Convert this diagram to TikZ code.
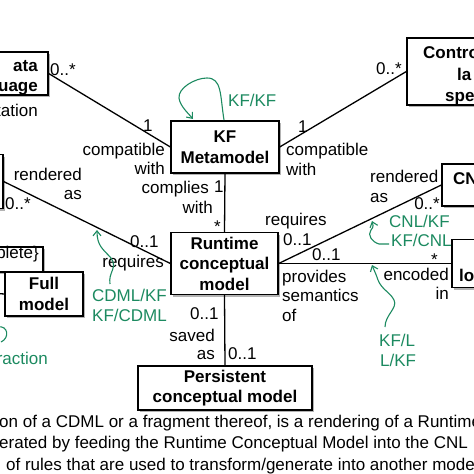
\documentclass[tikz,border=0pt]{standalone}
\usepackage{fontspec}
\setmainfont{Liberation Sans}
\usetikzlibrary{arrows.meta,shadows}
\definecolor{gc}{RGB}{28,138,96}
\begin{document}
\begin{tikzpicture}[x=1pt,y=-1pt,
  lbl/.style={inner sep=0pt, font=\fontsize{17}{20}\selectfont},
  gl/.style={lbl, text=gc},
  bl/.style={inner sep=0pt, font=\fontsize{17}{20}\selectfont\bfseries},
  box/.style={draw, line width=1.3pt, fill=white,
    drop shadow={shadow xshift=2pt, shadow yshift=-2pt, fill=black!50, opacity=0.6},
    align=center, inner sep=0pt, font=\fontsize{17}{20.5}\selectfont\bfseries},
  conn/.style={line width=1.3pt},
  gline/.style={draw=gc, line width=1.1pt, -{Straight Barb[length=5pt,width=8pt]}}]
\useasboundingbox (0,0) rectangle (474,474);
\clip (0,0) rectangle (474,474);

% boxes
\node[box, minimum width=130pt, minimum height=43pt] (dl) at (-17,73.5) {};
\node[bl, anchor=base east] (dl1) at (38,71) {ata};
\node[bl, anchor=base east] (dl2) at (38,91) {uage};
\node[lbl, anchor=base east] (dl3) at (38,116) {tation};

\node[box, minimum width=108pt, minimum height=52pt] (kf) at (225,147) {KF\\Metamodel};

\node[box, minimum width=150pt, minimum height=67pt] (cl) at (482,71.5) {};
\node[bl, anchor=base west] (cl1) at (423,58) {Contro};
\node[bl, anchor=base west] (cl2) at (457,80) {la};
\node[bl, anchor=base west] (cl3) at (445,101) {spe};

\node[box, minimum width=60pt, minimum height=54pt] (lb) at (-27,181.5) {};

\node[box, minimum width=107pt, minimum height=62pt] (rt) at (224.5,263.5) {Runtime\\conceptual\\model};

\node[box, minimum width=100pt, minimum height=42pt] (cnl) at (492,185) {};
\node[bl, anchor=base west] (cnl1) at (453,184) {CN};

\node[box, minimum width=100pt, minimum height=48pt] (lo) at (502,263.5) {};
\node[bl, anchor=base west] (lo1) at (459,281) {lo};

\node[box, minimum width=80pt, minimum height=25pt] (cmp) at (3,259.5) {};
\node[lbl, anchor=base east] (cmp1) at (39,258) {\{complete\}};

\node[box, minimum width=78pt, minimum height=44pt] (fl) at (44,294) {Full\\model};
\coordinate (flin) at (-10,293);

\node[box, minimum width=174pt, minimum height=44pt] (pc) at (225,388) {Persistent\\conceptual model};

% connectors
\draw[conn] (dl.east) -- (kf.west);
\draw[conn] (kf.east) -- (cl.west);
\draw[conn] (kf.south) -- (rt.north);
\draw[conn] (lb.east) -- (rt.west);
\draw[conn] (rt.east) -- (cnl.west);
\draw[conn] (rt.east) -- (lo.west);
\draw[conn] (rt.south) -- (pc.north);
\draw[conn] (flin) -- (fl.west);

% labels
\node[lbl, anchor=base west] (m1) at (50,75) {0..*};
\node[lbl, anchor=base west] (m2) at (143,131) {1};
\node[lbl, anchor=base east] (t1) at (165,155) {compatible};
\node[lbl, anchor=base east] (t2) at (165,174) {with};
\node[lbl, anchor=base west] (m3) at (298,132) {1};
\node[lbl, anchor=base west] (m4) at (376,74) {0..*};
\node[lbl, anchor=base west] (t3) at (286,155) {compatible};
\node[lbl, anchor=base west] (t4) at (286,175) {with};
\node[lbl, anchor=base east] (t5) at (209,193) {complies};
\node[lbl, anchor=base west] (m5) at (214,192) {1};
\node[lbl, anchor=base east] (t6) at (213,213) {with};
\node[lbl, anchor=base west] (m6) at (214,232) {*};
\node[lbl, anchor=base west] (m7) at (190,319) {0..1};
\node[lbl, anchor=base east] (t7) at (215,341) {saved};
\node[lbl, anchor=base east] (t8) at (215,359) {as};
\node[lbl, anchor=base west] (m8) at (228,359) {0..1};
\node[lbl, anchor=base east] (t9) at (82,180) {rendered};
\node[lbl, anchor=base east] (t10) at (82,199) {as};
\node[lbl, anchor=base west] (m9) at (5,209) {0..*};
\node[lbl, anchor=base west] (m10) at (130,247) {0..1};
\node[lbl, anchor=base east] (t11) at (164,267.5) {requires};
\node[lbl, anchor=base west] (t12) at (265,225) {requires};
\node[lbl, anchor=base west] (m11) at (283,245) {0..1};
\node[lbl, anchor=base west] (m12) at (312,260.5) {0..1};
\node[lbl, anchor=base west] (t13) at (282,282) {provides};
\node[lbl, anchor=base west] (t14) at (282,301) {semantics};
\node[lbl, anchor=base west] (t15) at (282,321) {of};
\node[lbl, anchor=base west] (m13) at (431,265) {*};
\node[lbl, anchor=base east] (t16) at (449,280) {encoded};
\node[lbl, anchor=base east] (t17) at (449,299) {in};
\node[lbl, anchor=base west] (t18) at (370,182) {rendered};
\node[lbl, anchor=base west] (t19) at (370,202) {as};
\node[lbl, anchor=base east] (m14) at (440,209) {0..*};

% green annotations
\node[gl, anchor=base west] (g1) at (228,106) {KF/KF};
\node[gl, anchor=base west] (g2) at (92,301) {CDML/KF};
\node[gl, anchor=base west] (g3) at (92,321) {KF/CDML};
\node[gl, anchor=base west] (g4) at (389,227) {CNL/KF};
\node[gl, anchor=base west] (g5) at (391,246) {KF/CNL};
\node[gl, anchor=base west] (g6) at (379,346) {KF/L};
\node[gl, anchor=base west] (g7) at (380,366) {L/KF};
\node[gl, anchor=base east] (g8) at (48,364) {raction};

\coordinate (s1a) at (224,120);
\coordinate (s1b) at (193,119);
\draw[gline] (s1a) .. controls (220,95) and (222,78) .. (207,78)
  .. controls (195,78) and (178,88) .. (179,98)
  .. controls (180,106) and (188,113) .. (s1b);

\coordinate (s2a) at (110,284);
\coordinate (s2b) at (97,230);
\draw[gline] (s2a) .. controls (108,272) and (118,268) .. (111,258)
  .. controls (103,249) and (97,246) .. (s2b);

\coordinate (s3a) at (389,244);
\coordinate (s3b) at (372,221);
\draw[gline] (s3a) -- (379,244) .. controls (372,242) and (367,235) .. (371,230)
  .. controls (374,227) and (373,224) .. (s3b);

\coordinate (s4a) at (385,327);
\coordinate (s4b) at (372,265);
\draw[gline] (s4a) .. controls (385,315) and (398,308) .. (394,300)
  .. controls (390,292) and (382,290) .. (378,280)
  .. controls (376,274) and (374,270) .. (s4b);

\coordinate (s5a) at (-2,327);
\coordinate (s5b) at (1,342);
\draw[draw=gc, line width=1.1pt] (s5a) .. controls (8,325) and (10,338) .. (s5b);

% bottom text
\node[lbl, anchor=base west] (b1) at (-1,427) {on of a CDML or a fragment thereof, is a rendering of a Runtime};
\node[lbl, anchor=base west] (b2) at (-1,448.5) {erated by feeding the Runtime Conceptual Model into the CNL};
\node[lbl, anchor=base west] (b3) at (6,470) {of rules that are used to transform/generate into another model};
\end{tikzpicture}
\end{document}
